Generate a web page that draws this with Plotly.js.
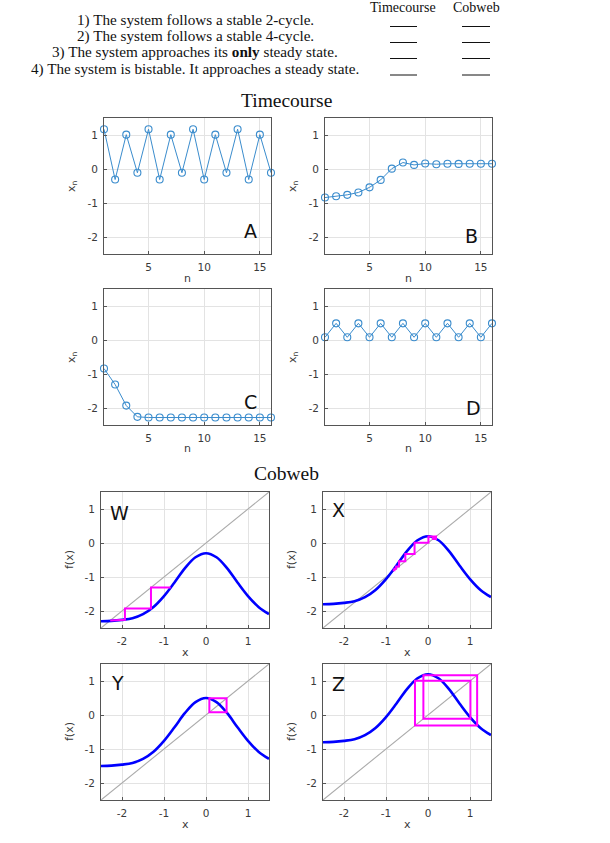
<!DOCTYPE html>
<html>
<head>
<meta charset="utf-8">
<script src="https://cdn.plot.ly/plotly-3.0.1.min.js"></script>
<style>
  html, body { margin: 0; padding: 0; background: #fff; }
  #chart { width: 610px; height: 843px; }
</style>
</head>
<body>
<div id="chart"></div>
<script>
// ---- data ----------------------------------------------------------------
const steps = [1, 2, 3, 4, 5, 6, 7, 8, 9, 10, 11, 12, 13, 14, 15, 16];

// timecourses x_n
const seqA = [1.17, -0.31, 1.01, -0.11, 1.17, -0.31, 1.01, -0.11, 1.17, -0.31, 1.01, -0.11, 1.17, -0.31, 1.01, -0.11];
const seqB = [-0.84, -0.80, -0.76, -0.69, -0.54, -0.32, 0.01, 0.19, 0.12, 0.16, 0.14, 0.155, 0.15, 0.155, 0.155, 0.155];
const seqC = [-0.84, -1.31, -1.93, -2.26, -2.28, -2.28, -2.28, -2.28, -2.28, -2.28, -2.28, -2.28, -2.28, -2.28, -2.28, -2.28];
const seqD = [0.08, 0.49, 0.08, 0.49, 0.08, 0.49, 0.08, 0.49, 0.08, 0.49, 0.08, 0.49, 0.08, 0.49, 0.08, 0.49];

// maps f(x) sampled along x
const mapX = [-2.5, -2.25, -2, -1.75, -1.5, -1.25, -1, -0.75, -0.5, -0.25, 0, 0.25, 0.5, 0.75, 1, 1.25, 1.5];
const mapW = [-2.30, -2.29, -2.26, -2.21, -2.09, -1.88, -1.56, -1.16, -0.74, -0.42, -0.30, -0.42, -0.74, -1.16, -1.56, -1.88, -2.09];
const mapXp = [-1.80, -1.79, -1.76, -1.71, -1.59, -1.38, -1.06, -0.66, -0.24, 0.08, 0.20, 0.08, -0.24, -0.66, -1.06, -1.38, -1.59];
const mapY = [-1.50, -1.49, -1.46, -1.41, -1.29, -1.08, -0.76, -0.36, 0.06, 0.38, 0.50, 0.38, 0.06, -0.36, -0.76, -1.08, -1.29];
const mapZ = [-0.80, -0.79, -0.76, -0.71, -0.59, -0.38, -0.06, 0.34, 0.76, 1.08, 1.20, 1.08, 0.76, 0.34, -0.06, -0.38, -0.59];

// axis ranges and ticks
const nRange = [1, 16];
const nTicks = [5, 10, 15];
const nTickText = ['5', '10', '15'];
const valRange = [-2.5, 1.5];
const valTicks = [-2, -1, 0, 1];
const valTickText = ['-2', '-1', '0', '1'];

// ---- helpers -------------------------------------------------------------
// cobweb staircase: (x1,x2) -> (x2,x2) -> (x2,x3) -> (x3,x3) -> ...
function cobweb(seq) {
  const xs = [seq[0]], ys = [seq[1]];
  for (let i = 1; i < seq.length - 1; i++) {
    xs.push(seq[i]); ys.push(seq[i]);
    xs.push(seq[i]); ys.push(seq[i + 1]);
  }
  return { x: xs, y: ys };
}

const PW = 610, PH = 843;
const px = (l, r) => [l / PW, r / PW];
const py = (t, b) => [1 - b / PH, 1 - t / PH];

// panel boxes: left, right, top, bottom (pixels)
const boxes = [
  [104, 271, 118, 254],  // A
  [325, 492, 118, 254],  // B
  [104, 271, 289, 425],  // C
  [325, 492, 289, 425],  // D
  [101, 269, 492, 628],  // W
  [323, 491, 492, 628],  // X
  [101, 269, 664, 800],  // Y
  [323, 491, 664, 800]   // Z
];

const tickFont = { family: 'DejaVu Sans, sans-serif', size: 10.5, color: '#3a3a3a' };
const labelFont = { family: 'DejaVu Sans, sans-serif', size: 11, color: '#3a3a3a' };
const tcColor = '#3a8ccd';

const traces = [];
const layout = {
  width: PW, height: PH,
  margin: { l: 0, r: 0, t: 0, b: 0 },
  paper_bgcolor: '#fff', plot_bgcolor: '#fff',
  showlegend: false,
  annotations: [],
  shapes: [],
  font: { family: 'DejaVu Sans, sans-serif' }
};

function axisStyle(range, ticks, labels, dom, anchor) {
  return {
    domain: dom, anchor: anchor, range: range,
    tickmode: 'array', tickvals: ticks, ticktext: labels,
    showgrid: true, gridcolor: '#e3e3e3', gridwidth: 1,
    zeroline: false,
    showline: true, mirror: true, linecolor: '#555', linewidth: 1,
    ticks: 'inside', ticklen: 3, tickcolor: '#555', tickwidth: 1,
    ticklabelstandoff: 3,
    tickfont: tickFont, fixedrange: true
  };
}

const seqs = [seqA, seqB, seqC, seqD];
const maps = [mapW, mapXp, mapY, mapZ];
const cobSeqs = [seqC, seqB, seqD, seqA];
const letters = ['A', 'B', 'C', 'D', 'W', 'X', 'Y', 'Z'];
const letterPos = [
  [14.2, -1.82], [14.2, -1.96], [14.2, -1.82], [14.3, -2.0],
  [-2.05, 0.88], [-2.14, 0.97], [-2.1, 0.94], [-2.14, 0.91]
];

boxes.forEach((b, i) => {
  const k = i + 1;
  const xa = 'x' + (k === 1 ? '' : k), ya = 'y' + (k === 1 ? '' : k);
  const xk = 'xaxis' + (k === 1 ? '' : k), yk = 'yaxis' + (k === 1 ? '' : k);
  const isTC = i < 4;
  layout[xk] = axisStyle(isTC ? nRange : valRange, isTC ? nTicks : valTicks,
                         isTC ? nTickText : valTickText, px(b[0], b[1]), ya);
  layout[yk] = axisStyle(valRange, valTicks, valTickText, py(b[2], b[3]), xa);

  if (isTC) {
    traces.push({
      x: steps, y: seqs[i], xaxis: xa, yaxis: ya, type: 'scatter', mode: 'lines+markers',
      line: { color: tcColor, width: 1 },
      marker: { symbol: 'circle-open', size: 7, color: tcColor, line: { width: 1.1, color: tcColor } },
      cliponaxis: false, hoverinfo: 'skip'
    });
  } else {
    const j = i - 4;
    traces.push({
      x: valRange, y: valRange, xaxis: xa, yaxis: ya, type: 'scatter', mode: 'lines',
      line: { color: '#ababab', width: 1.1 }, hoverinfo: 'skip'
    });
    traces.push({
      x: mapX, y: maps[j], xaxis: xa, yaxis: ya, type: 'scatter', mode: 'lines',
      line: { color: '#0000ff', width: 2.6, shape: 'spline', smoothing: 1 }, hoverinfo: 'skip'
    });
    const cw = cobweb(cobSeqs[j]);
    traces.push({
      x: cw.x, y: cw.y, xaxis: xa, yaxis: ya, type: 'scatter', mode: 'lines',
      line: { color: '#ff00ff', width: 2 }, hoverinfo: 'skip'
    });
  }

  // panel letter
  layout.annotations.push({
    xref: xa, yref: ya, x: letterPos[i][0], y: letterPos[i][1],
    text: letters[i], showarrow: false,
    font: { family: 'DejaVu Sans, sans-serif', size: 19, color: '#111' },
    xanchor: 'center', yanchor: 'middle'
  });

  // axis titles
  const cx = (b[0] + b[1]) / 2 / PW;
  const cy = 1 - (b[2] + b[3]) / 2 / PH;
  layout.annotations.push({
    xref: 'paper', yref: 'paper', x: cx, y: 1 - (b[3] + 24) / PH,
    text: isTC ? 'n' : 'x', showarrow: false, font: labelFont,
    xanchor: 'center', yanchor: 'middle'
  });
  layout.annotations.push({
    xref: 'paper', yref: 'paper', x: (b[0] - 32) / PW, y: cy,
    text: isTC ? 'x<sub>n</sub>' : 'f(x)', showarrow: false, textangle: -90, font: labelFont,
    xanchor: 'center', yanchor: 'middle'
  });
});

// ---- headings and question sheet -----------------------------------------
const serif = 'Liberation Serif, Times New Roman, serif';
function txt(x, y, text, size) {
  layout.annotations.push({
    xref: 'paper', yref: 'paper', x: x / PW, y: 1 - y / PH, text: text, showarrow: false,
    font: { family: serif, size: size, color: '#111' },
    xanchor: 'center', yanchor: 'middle'
  });
}
// answer blank underline
function blank(x0, x1, y) {
  layout.shapes.push({
    type: 'line', xref: 'paper', yref: 'paper',
    x0: x0 / PW, x1: x1 / PW, y0: 1 - y / PH, y1: 1 - y / PH,
    line: { color: '#111', width: 1 }
  });
}
const statements = [
  '1) The system follows a stable 2-cycle.',
  '2) The system follows a stable 4-cycle.',
  '3) The system approaches its <b>only</b> steady state.',
  '4) The system is bistable. It approaches a steady state.'
];
const rowY = [20, 36, 52, 68.5];
txt(403, 8, 'Timecourse', 14);
txt(476, 8, 'Cobweb', 14);
statements.forEach((s, i) => {
  txt(195, rowY[i], s, 15.2);
  blank(390, 417, rowY[i] + 6.5);
  blank(462, 490, rowY[i] + 6.5);
});
txt(286, 101, 'Timecourse', 19.5);
txt(286, 474, 'Cobweb', 19.5);

Plotly.newPlot('chart', traces, layout, { staticPlot: true, displayModeBar: false });
</script>
</body>
</html>
